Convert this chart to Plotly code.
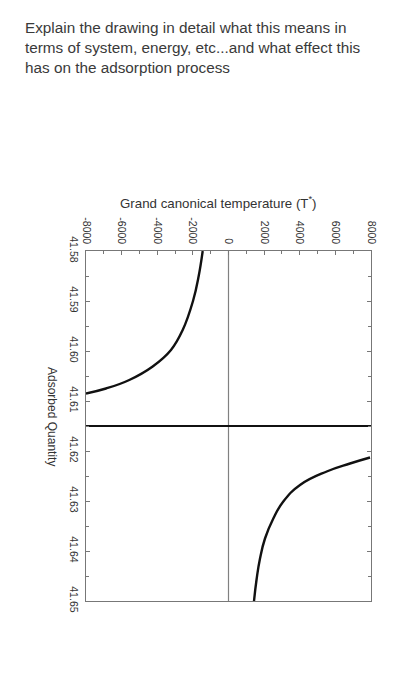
import plotly.graph_objects as go

# ---- data ----
header_lines = [
    "Explain the drawing in detail what this means in",
    "terms of system, energy, etc...and what effect this",
    "has on the adsorption process",
]
x_title = "Grand canonical temperature (T<sup>*</sup>)"
y_title = "Adsorbed Quantity"

t_tickvals = [-8000, -6000, -4000, -2000, 0, 2000, 4000, 6000, 8000]
t_ticktext = ["-8000", "-6000", "-4000", "-2000", "0", "2000", "4000", "6000", "8000"]
q_tickvals = [41.58, 41.59, 41.60, 41.61, 41.62, 41.63, 41.64, 41.65]
q_ticktext = ["41.58", "41.59", "41.60", "41.61", "41.62", "41.63", "41.64", "41.65"]

# left branch (below asymptote in quantity)
q_left = [41.58, 41.585, 41.59, 41.5958, 41.5998, 41.6031, 41.6058, 41.6075, 41.6085]
t_left = [-1449, -1673, -1993, -2572, -3229, -4256, -5570, -6878, -8000]
# right branch (above asymptote in quantity)
q_right = [41.6213, 41.6225, 41.6241, 41.6268, 41.6301, 41.6335, 41.6375, 41.6415, 41.6455, 41.65]
t_right = [7945, 6822, 5514, 4015, 3077, 2516, 2049, 1769, 1583, 1432]

q_asymptote = 41.615
t_range = [-8000, 8000]
q_range = [41.65, 41.58]

FONT = "Liberation Sans, Arial, Helvetica, sans-serif"

fig = go.Figure()
curve_style = dict(color="#111111", width=2.4)
fig.add_trace(go.Scatter(x=t_left, y=q_left, mode="lines",
                         line=dict(shape="spline", smoothing=1.2, **curve_style),
                         hoverinfo="skip"))
fig.add_trace(go.Scatter(x=t_right, y=q_right, mode="lines",
                         line=dict(shape="spline", smoothing=1.3, **curve_style),
                         hoverinfo="skip"))
# zero-temperature line
fig.add_trace(go.Scatter(x=[0, 0], y=q_range, mode="lines",
                         line=dict(color="#808080", width=1.2), hoverinfo="skip"))
# asymptote in adsorbed quantity
fig.add_trace(go.Scatter(x=t_range, y=[q_asymptote, q_asymptote], mode="lines",
                         line=dict(color="#111111", width=2.2), hoverinfo="skip"))

W, H = 408, 700
L, R, T, B = 86, 37, 251, 99
pw, ph = W - L - R, H - T - B


def px_x(x):
    return (x - L) / pw


def px_y(y):
    return (H - B - y) / ph


fig.update_layout(
    width=W, height=H,
    margin=dict(l=L, r=R, t=T, b=B),
    paper_bgcolor="white", plot_bgcolor="white",
    showlegend=False,
    font=dict(family=FONT, color="#333333"),
    xaxis=dict(
        range=t_range, side="top", tickmode="array",
        tickvals=t_tickvals, ticktext=t_ticktext, tickangle=90,
        ticks="inside", ticklen=4, tickcolor="#777777", tickwidth=1,
        minor=dict(dtick=1000, ticks="inside", ticklen=2.5, tickcolor="#777777"),
        showline=True, linecolor="#777777", linewidth=1.3, mirror=True,
        showgrid=False, zeroline=False,
        tickfont=dict(size=10.5, color="#333333", family=FONT),
        ticklabelstandoff=2,
    ),
    yaxis=dict(
        range=q_range, tickmode="array",
        tickvals=q_tickvals, ticktext=q_ticktext, tickangle=90,
        ticks="inside", ticklen=4, tickcolor="#777777", tickwidth=1,
        minor=dict(dtick=0.005, ticks="inside", ticklen=2.5, tickcolor="#777777"),
        showline=True, linecolor="#777777", linewidth=1.3, mirror="ticks",
        showgrid=False, zeroline=False,
        tickfont=dict(size=10.5, color="#333333", family=FONT),
        ticklabelstandoff=2,
    ),
)

annotations = []
for i, line in enumerate(header_lines):
    annotations.append(dict(
        text=line, xref="paper", yref="paper",
        x=px_x(23), y=px_y(27 + 20.5 * i), xanchor="left", yanchor="middle",
        showarrow=False, font=dict(size=15.3, color="#3a3a3a", family=FONT)))
annotations.append(dict(
    text=x_title, xref="paper", yref="paper",
    x=px_x(218), y=px_y(203), xanchor="center", yanchor="middle",
    showarrow=False, font=dict(size=13.3, color="#333333", family=FONT)))
annotations.append(dict(
    text=y_title, xref="paper", yref="paper", textangle=90,
    x=px_x(52), y=px_y(416), xanchor="center", yanchor="middle",
    showarrow=False, font=dict(size=12, color="#333333", family=FONT)))
fig.update_layout(annotations=annotations)

fig.write_html("out.html", config={"displayModeBar": False},
               post_script="document.body.style.margin='0';")
